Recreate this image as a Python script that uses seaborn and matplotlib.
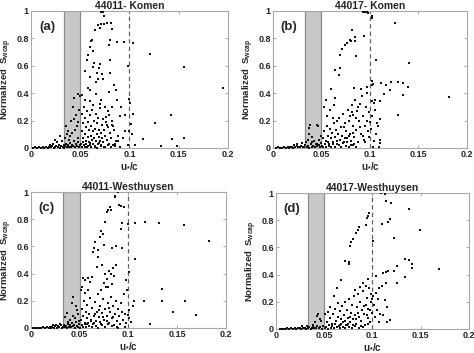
import numpy as np
import pandas as pd
import matplotlib
matplotlib.use("Agg")
import matplotlib.pyplot as plt
import seaborn as sns

# ---------------------------------------------------------
# DATA (valores estimados da figura original)
# ---------------------------------------------------------

TITLES = ["44011- Komen", "44017- Komen", "44011-Westhuysen", "44017-Westhuysen"]
LABELS = ["(a)", "(b)", "(c)", "(d)"]

SHADE_X = [0.033, 0.05]
DASH_X = 0.1
X_TICKS = [0, 0.05, 0.1, 0.15, 0.2]
Y_TICKS = [0, 0.2, 0.4, 0.6, 0.8, 1]

# painel (a) 44011 - Komen
pts_a = [
    (0.002, 0.001), (0.004, 0.003), (0.006, 0.000), (0.008, 0.004), (0.010, 0.002), (0.012, 0.005),
    (0.013, 0.001), (0.015, 0.006), (0.017, 0.002), (0.018, 0.009), (0.020, 0.004), (0.021, 0.012),
    (0.023, 0.001), (0.024, 0.008), (0.025, 0.015), (0.027, 0.005), (0.028, 0.020), (0.029, 0.002),
    (0.030, 0.011), (0.032, 0.006), (0.033, 0.024), (0.034, 0.002), (0.035, 0.013), (0.036, 0.030),
    (0.037, 0.004), (0.038, 0.018), (0.039, 0.009), (0.040, 0.035), (0.041, 0.003), (0.042, 0.022),
    (0.043, 0.012), (0.044, 0.048), (0.045, 0.006), (0.046, 0.027), (0.047, 0.015), (0.048, 0.040),
    (0.049, 0.003), (0.050, 0.020), (0.052, 0.010), (0.053, 0.045), (0.055, 0.004), (0.056, 0.030),
    (0.058, 0.014), (0.060, 0.038), (0.061, 0.006), (0.063, 0.025), (0.065, 0.012), (0.067, 0.002),
    (0.069, 0.033), (0.071, 0.016), (0.074, 0.008), (0.078, 0.022), (0.081, 0.005), (0.085, 0.012),
    (0.022, 0.030), (0.026, 0.045), (0.029, 0.085), (0.024, 0.060), (0.031, 0.050), (0.019, 0.020),
    (0.036, 0.158), (0.041, 0.195), (0.044, 0.365), (0.043, 0.300), (0.038, 0.120), (0.040, 0.090),
    (0.046, 0.240), (0.047, 0.160), (0.035, 0.070), (0.042, 0.110), (0.048, 0.075), (0.039, 0.055),
    (0.045, 0.130), (0.049, 0.280), (0.044, 0.210), (0.037, 0.100), (0.048, 0.190), (0.048, 0.390),
    (0.051, 0.030), (0.052, 0.120), (0.052, 0.250), (0.053, 0.070), (0.053, 0.180), (0.054, 0.020),
    (0.054, 0.300), (0.055, 0.100), (0.055, 0.220), (0.056, 0.050), (0.056, 0.150), (0.057, 0.010),
    (0.057, 0.270), (0.058, 0.080), (0.058, 0.190), (0.059, 0.040), (0.059, 0.130), (0.060, 0.240),
    (0.060, 0.020), (0.061, 0.090), (0.061, 0.160), (0.062, 0.060), (0.062, 0.280), (0.063, 0.120),
    (0.063, 0.030), (0.064, 0.200), (0.064, 0.070), (0.065, 0.140), (0.065, 0.010), (0.066, 0.250),
    (0.066, 0.050), (0.067, 0.100), (0.067, 0.180), (0.068, 0.030), (0.068, 0.220), (0.069, 0.080),
    (0.069, 0.130), (0.070, 0.050), (0.070, 0.290), (0.071, 0.110), (0.071, 0.020), (0.072, 0.170),
    (0.072, 0.070), (0.073, 0.210), (0.073, 0.040), (0.074, 0.130), (0.075, 0.090), (0.075, 0.010),
    (0.076, 0.190), (0.077, 0.060), (0.078, 0.150), (0.079, 0.030), (0.080, 0.110), (0.081, 0.070),
    (0.082, 0.200), (0.083, 0.020), (0.084, 0.130), (0.086, 0.050), (0.088, 0.090), (0.090, 0.010),
    (0.058, 0.440), (0.060, 0.425), (0.066, 0.390), (0.050, 0.380), (0.052, 0.385), (0.055, 0.350),
    (0.060, 0.345), (0.063, 0.310), (0.068, 0.500), (0.072, 0.540), (0.073, 0.500), (0.067, 0.545),
    (0.066, 0.480), (0.060, 0.520), (0.055, 0.565), (0.063, 0.590), (0.064, 0.620), (0.057, 0.645),
    (0.058, 0.680), (0.060, 0.740), (0.063, 0.710), (0.061, 0.780), (0.062, 0.790), (0.069, 0.580),
    (0.070, 0.615), (0.080, 0.645), (0.080, 0.545), (0.084, 0.462), (0.086, 0.420), (0.079, 0.410),
    (0.087, 0.350), (0.071, 0.350), (0.070, 0.320), (0.075, 0.300), (0.082, 0.300), (0.078, 0.270),
    (0.079, 0.240), (0.076, 0.224), (0.077, 0.166), (0.082, 0.166), (0.083, 0.158), (0.090, 0.230),
    (0.091, 0.300), (0.095, 0.240), (0.102, 0.175), (0.100, 0.120), (0.103, 0.100), (0.095, 0.120),
    (0.093, 0.073), (0.088, 0.049), (0.085, 0.030), (0.098, 0.020), (0.100, 0.360), (0.098, 0.600),
    (0.071, 0.995), (0.073, 0.995), (0.074, 0.960), (0.071, 0.905), (0.074, 0.905), (0.077, 0.910),
    (0.081, 0.910), (0.070, 0.876), (0.082, 0.870), (0.068, 0.900), (0.065, 0.860), (0.080, 0.786),
    (0.079, 0.750), (0.087, 0.774), (0.094, 0.774), (0.104, 0.764), (0.121, 0.686), (0.155, 0.590),
    (0.195, 0.436), (0.142, 0.240), (0.126, 0.180), (0.114, 0.068), (0.143, 0.068), (0.155, 0.073),
    (0.132, 0.012), (0.148, 0.017), (0.106, 0.020), (0.101, 0.330), (0.104, 0.250),
]

# painel (b) 44017 - Komen
pts_b = [
    (0.003, 0.001), (0.005, 0.004), (0.007, 0.002), (0.009, 0.000), (0.011, 0.005), (0.013, 0.002),
    (0.015, 0.007), (0.016, 0.001), (0.018, 0.004), (0.020, 0.009), (0.021, 0.002), (0.023, 0.006),
    (0.025, 0.012), (0.026, 0.003), (0.028, 0.008), (0.029, 0.016), (0.031, 0.004), (0.032, 0.010),
    (0.033, 0.020), (0.035, 0.006), (0.036, 0.014), (0.037, 0.002), (0.039, 0.025), (0.040, 0.008),
    (0.041, 0.017), (0.043, 0.004), (0.044, 0.030), (0.045, 0.011), (0.047, 0.020), (0.048, 0.005),
    (0.049, 0.036), (0.051, 0.014), (0.052, 0.003), (0.054, 0.026), (0.055, 0.008), (0.057, 0.040),
    (0.058, 0.016), (0.060, 0.004), (0.062, 0.030), (0.064, 0.010), (0.066, 0.050), (0.068, 0.020),
    (0.070, 0.006), (0.072, 0.035), (0.075, 0.012), (0.078, 0.003), (0.082, 0.020), (0.086, 0.008),
    (0.025, 0.030), (0.030, 0.035), (0.040, 0.040), (0.022, 0.020), (0.034, 0.045),
    (0.045, 0.170), (0.046, 0.158), (0.038, 0.170), (0.037, 0.146), (0.037, 0.100), (0.040, 0.078),
    (0.047, 0.060), (0.045, 0.030), (0.042, 0.050), (0.049, 0.090), (0.036, 0.060),
    (0.060, 0.430), (0.064, 0.365), (0.0625, 0.316), (0.055, 0.350), (0.053, 0.297), (0.059, 0.280),
    (0.056, 0.230), (0.0615, 0.220), (0.066, 0.195), (0.069, 0.580), (0.064, 0.570), (0.068, 0.535),
    (0.052, 0.070), (0.053, 0.120), (0.055, 0.050), (0.056, 0.160), (0.057, 0.090), (0.058, 0.030),
    (0.059, 0.140), (0.060, 0.070), (0.061, 0.110), (0.062, 0.045), (0.063, 0.180), (0.064, 0.080),
    (0.065, 0.130), (0.066, 0.030), (0.067, 0.100), (0.068, 0.220), (0.069, 0.060), (0.070, 0.150),
    (0.071, 0.090), (0.072, 0.250), (0.073, 0.040), (0.074, 0.180), (0.075, 0.120), (0.076, 0.070),
    (0.077, 0.280), (0.078, 0.200), (0.079, 0.100), (0.080, 0.050), (0.081, 0.310), (0.082, 0.160),
    (0.083, 0.240), (0.084, 0.080), (0.085, 0.350), (0.086, 0.130), (0.087, 0.270), (0.088, 0.040),
    (0.089, 0.200), (0.090, 0.320), (0.091, 0.100), (0.092, 0.380), (0.093, 0.230), (0.094, 0.060),
    (0.095, 0.160), (0.096, 0.300), (0.097, 0.400), (0.098, 0.120), (0.099, 0.260), (0.100, 0.190),
    (0.074, 0.070), (0.076, 0.040), (0.078, 0.090), (0.080, 0.020), (0.082, 0.110), (0.084, 0.030),
    (0.073, 0.150), (0.079, 0.230), (0.081, 0.260), (0.086, 0.220), (0.088, 0.300), (0.090, 0.150),
    (0.093, 0.090), (0.095, 0.040), (0.097, 0.200), (0.099, 0.080), (0.101, 0.140), (0.102, 0.230),
    (0.104, 0.050), (0.105, 0.280), (0.106, 0.100), (0.108, 0.160), (0.109, 0.010), (0.103, 0.010),
    (0.093, 0.990), (0.095, 0.995), (0.097, 0.990), (0.098, 0.985), (0.102, 0.960), (0.102, 0.950),
    (0.126, 0.910), (0.081, 0.860), (0.085, 0.810), (0.085, 0.780), (0.079, 0.790), (0.080, 0.780),
    (0.076, 0.766), (0.074, 0.754), (0.071, 0.720), (0.069, 0.680), (0.094, 0.820), (0.086, 0.670),
    (0.106, 0.640), (0.140, 0.620), (0.102, 0.490), (0.103, 0.467), (0.102, 0.460), (0.111, 0.474),
    (0.117, 0.458), (0.122, 0.480), (0.129, 0.480), (0.134, 0.474), (0.139, 0.445), (0.121, 0.426),
    (0.114, 0.396), (0.110, 0.345), (0.134, 0.385), (0.084, 0.440), (0.091, 0.433), (0.097, 0.443),
    (0.182, 0.370), (0.129, 0.240), (0.102, 0.340), (0.104, 0.330), (0.105, 0.350), (0.110, 0.210),
    (0.107, 0.180), (0.110, 0.060), (0.110, 0.036),
]

# painel (c) 44011 - Westhuysen
pts_c = [
    (0.002, 0.000), (0.004, 0.002), (0.006, 0.001), (0.008, 0.003), (0.010, 0.000), (0.012, 0.004),
    (0.014, 0.001), (0.016, 0.005), (0.018, 0.002), (0.019, 0.007), (0.021, 0.001), (0.022, 0.009),
    (0.024, 0.003), (0.025, 0.012), (0.027, 0.002), (0.028, 0.015), (0.029, 0.006), (0.031, 0.019),
    (0.032, 0.003), (0.033, 0.010), (0.034, 0.025), (0.035, 0.005), (0.036, 0.016), (0.037, 0.002),
    (0.038, 0.030), (0.039, 0.009), (0.040, 0.020), (0.041, 0.004), (0.042, 0.038), (0.043, 0.012),
    (0.044, 0.024), (0.045, 0.003), (0.046, 0.045), (0.047, 0.015), (0.048, 0.008), (0.049, 0.032),
    (0.050, 0.002), (0.052, 0.022), (0.053, 0.010), (0.055, 0.040), (0.056, 0.004), (0.058, 0.028),
    (0.060, 0.012), (0.062, 0.050), (0.063, 0.006), (0.065, 0.035), (0.067, 0.016), (0.069, 0.003),
    (0.071, 0.042), (0.073, 0.020), (0.076, 0.008), (0.079, 0.030), (0.083, 0.012), (0.088, 0.004),
    (0.026, 0.025), (0.030, 0.030), (0.023, 0.018),
    (0.0434, 0.230), (0.042, 0.180), (0.047, 0.130), (0.0366, 0.110), (0.0434, 0.090), (0.040, 0.060),
    (0.045, 0.070), (0.038, 0.045), (0.048, 0.100), (0.046, 0.160), (0.035, 0.080), (0.049, 0.050),
    (0.0656, 0.634), (0.0646, 0.586), (0.064, 0.560), (0.069, 0.525), (0.0674, 0.450), (0.0623, 0.377),
    (0.059, 0.365), (0.0605, 0.340), (0.055, 0.350), (0.053, 0.370), (0.052, 0.300), (0.051, 0.280),
    (0.055, 0.255), (0.059, 0.280),
    (0.051, 0.060), (0.052, 0.140), (0.053, 0.090), (0.054, 0.200), (0.055, 0.030), (0.056, 0.120),
    (0.057, 0.070), (0.058, 0.170), (0.059, 0.040), (0.060, 0.100), (0.061, 0.220), (0.062, 0.060),
    (0.063, 0.150), (0.064, 0.030), (0.065, 0.090), (0.066, 0.190), (0.067, 0.050), (0.068, 0.120),
    (0.069, 0.250), (0.070, 0.080), (0.071, 0.160), (0.072, 0.030), (0.073, 0.110), (0.074, 0.210),
    (0.075, 0.060), (0.076, 0.140), (0.077, 0.300), (0.078, 0.090), (0.079, 0.180), (0.080, 0.040),
    (0.081, 0.120), (0.082, 0.230), (0.083, 0.070), (0.084, 0.160), (0.085, 0.020), (0.086, 0.100),
    (0.087, 0.200), (0.088, 0.050), (0.089, 0.140), (0.090, 0.090), (0.091, 0.030), (0.092, 0.180),
    (0.093, 0.120), (0.094, 0.060), (0.095, 0.250), (0.096, 0.010), (0.097, 0.100), (0.098, 0.040),
    (0.074, 0.080), (0.078, 0.050), (0.080, 0.150), (0.084, 0.080), (0.070, 0.130), (0.066, 0.100),
    (0.072, 0.280), (0.075, 0.330), (0.078, 0.360), (0.080, 0.420), (0.082, 0.400), (0.084, 0.440),
    (0.085, 0.380), (0.076, 0.400), (0.073, 0.460), (0.079, 0.300), (0.083, 0.320), (0.087, 0.460),
    (0.089, 0.0), (0.0896, 1.000), (0.086, 0.963), (0.0858, 0.970), (0.090, 0.904), (0.092, 0.897),
    (0.0955, 0.888), (0.081, 0.888), (0.082, 0.870), (0.079, 0.870), (0.078, 0.850), (0.0755, 0.780),
    (0.093, 0.774), (0.0995, 0.765), (0.107, 0.770), (0.117, 0.780), (0.131, 0.774), (0.157, 0.760),
    (0.183, 0.640), (0.0926, 0.726), (0.072, 0.710), (0.0738, 0.690), (0.071, 0.670), (0.0749, 0.610),
    (0.0687, 0.570), (0.107, 0.507), (0.1005, 0.410), (0.135, 0.287), (0.106, 0.200), (0.116, 0.200),
    (0.134, 0.200), (0.158, 0.200), (0.146, 0.120), (0.169, 0.095), (0.122, 0.030), (0.105, 0.160),
    (0.100, 0.095), (0.1005, 0.070), (0.103, 0.046), (0.093, 0.586), (0.087, 0.600), (0.083, 0.590),
    (0.098, 0.350), (0.099, 0.280), (0.101, 0.130),
]

# painel (d) 44017 - Westhuysen
pts_d = [
    (0.004, 0.001), (0.006, 0.003), (0.008, 0.000), (0.010, 0.002), (0.012, 0.004), (0.014, 0.001),
    (0.016, 0.005), (0.018, 0.002), (0.020, 0.006), (0.021, 0.001), (0.023, 0.004), (0.025, 0.008),
    (0.026, 0.002), (0.028, 0.006), (0.030, 0.010), (0.031, 0.003), (0.033, 0.007), (0.034, 0.013),
    (0.036, 0.002), (0.037, 0.009), (0.039, 0.016), (0.040, 0.004), (0.042, 0.011), (0.043, 0.020),
    (0.045, 0.006), (0.046, 0.014), (0.048, 0.002), (0.049, 0.024), (0.051, 0.008), (0.052, 0.016),
    (0.054, 0.003), (0.055, 0.028), (0.057, 0.010), (0.058, 0.020), (0.060, 0.005), (0.061, 0.034),
    (0.063, 0.013), (0.065, 0.024), (0.066, 0.004), (0.068, 0.040), (0.070, 0.016), (0.072, 0.008),
    (0.074, 0.030), (0.076, 0.012), (0.079, 0.004), (0.082, 0.022), (0.086, 0.008), (0.090, 0.015),
    (0.027, 0.020), (0.038, 0.030), (0.032, 0.025),
    (0.063, 0.300), (0.060, 0.240), (0.064, 0.190), (0.056, 0.165), (0.061, 0.150), (0.054, 0.127),
    (0.051, 0.110), (0.044, 0.110), (0.0425, 0.096), (0.046, 0.070), (0.041, 0.054), (0.047, 0.060),
    (0.053, 0.050), (0.056, 0.080), (0.058, 0.040), (0.059, 0.110), (0.062, 0.060), (0.064, 0.090),
    (0.066, 0.030), (0.067, 0.130), (0.068, 0.070), (0.069, 0.170), (0.070, 0.050), (0.071, 0.100),
    (0.072, 0.200), (0.073, 0.030), (0.074, 0.140), (0.075, 0.080), (0.076, 0.220), (0.077, 0.050),
    (0.078, 0.120), (0.079, 0.180), (0.080, 0.070), (0.081, 0.240), (0.082, 0.100), (0.083, 0.040),
    (0.084, 0.160), (0.085, 0.260), (0.086, 0.090), (0.087, 0.200), (0.088, 0.060), (0.089, 0.140),
    (0.090, 0.280), (0.091, 0.110), (0.092, 0.030), (0.093, 0.180), (0.094, 0.230), (0.095, 0.080),
    (0.096, 0.150), (0.097, 0.300), (0.098, 0.050), (0.099, 0.200), (0.100, 0.120), (0.100, 0.220),
    (0.072, 0.060), (0.075, 0.040), (0.077, 0.090), (0.080, 0.030), (0.083, 0.070), (0.085, 0.120),
    (0.088, 0.020), (0.091, 0.170), (0.094, 0.100), (0.096, 0.040), (0.098, 0.140), (0.099, 0.260),
    (0.102, 0.180), (0.103, 0.090), (0.105, 0.140), (0.106, 0.220), (0.107, 0.050), (0.108, 0.110),
    (0.109, 1.000), (0.113, 0.990), (0.114, 0.945), (0.119, 0.925), (0.1385, 0.880), (0.097, 0.855),
    (0.0953, 0.830), (0.0943, 0.814), (0.093, 0.765), (0.0867, 0.750), (0.085, 0.730), (0.083, 0.710),
    (0.0798, 0.660), (0.078, 0.640), (0.077, 0.610), (0.118, 0.810), (0.116, 0.785), (0.110, 0.770),
    (0.1495, 0.730), (0.122, 0.670), (0.1005, 0.650), (0.072, 0.500), (0.0756, 0.490), (0.0756, 0.480),
    (0.1334, 0.515), (0.1385, 0.510), (0.1415, 0.480), (0.1415, 0.450), (0.126, 0.460), (0.122, 0.430),
    (0.116, 0.430), (0.114, 0.420), (0.111, 0.410), (0.104, 0.390), (0.1334, 0.380), (0.126, 0.340),
    (0.169, 0.440), (0.1143, 0.340), (0.110, 0.320), (0.107, 0.300), (0.104, 0.265), (0.1005, 0.240),
    (0.113, 0.210), (0.115, 0.165), (0.111, 0.100), (0.118, 0.066), (0.115, 0.054), (0.090, 0.340),
    (0.093, 0.320), (0.087, 0.310), (0.082, 0.290), (0.096, 0.370), (0.068, 0.360),
]

PANELS = [pts_a, pts_b, pts_c, pts_d]

# posições dos eixos em fração da figura (left, bottom, width, height)
AX_POS = [
    (0.0654, 0.581, 0.4156, 0.388),
    (0.576, 0.581, 0.409, 0.388),
    (0.0654, 0.071, 0.411, 0.385),
    (0.582, 0.068, 0.407, 0.385),
]

# ---------------------------------------------------------
# ESTILO
# ---------------------------------------------------------
sns.set_theme(style="white")
plt.rcParams["font.family"] = ["Liberation Sans", "DejaVu Sans"]
plt.rcParams["font.weight"] = "bold"
plt.rcParams["mathtext.fontset"] = "custom"
plt.rcParams["mathtext.rm"] = "Liberation Sans:bold"
plt.rcParams["mathtext.it"] = "Liberation Sans:bold"
plt.rcParams["mathtext.bf"] = "Liberation Sans:bold"
plt.rcParams["mathtext.default"] = "bf"


def draw_panel(ax, pts, title, label):
    df = pd.DataFrame(pts, columns=["ustar_c", "swcap"])

    ax.axvspan(SHADE_X[0], SHADE_X[1], facecolor="#c8c8c8",
               edgecolor="#8c8c8c", linewidth=0.9, zorder=1)
    ax.axvline(DASH_X, color="#606060", linestyle=(0, (3.5, 2.5)),
               linewidth=0.9, zorder=2)

    sns.scatterplot(data=df, x="ustar_c", y="swcap", ax=ax, color="#111111",
                    s=1.3, marker="s", linewidth=0, zorder=3, legend=False)

    ax.set_xlim(0, 0.2)
    ax.set_ylim(0, 1)
    ax.set_xticks(X_TICKS)
    ax.set_yticks(Y_TICKS)
    ax.set_xticklabels(["0", "0.05", "0.1", "0.15", "0.2"])
    ax.set_yticklabels(["0", "0.2", "0.4", "0.6", "0.8", "1"])
    ax.tick_params(direction="in", length=2, width=0.6, color="#999999",
                   labelsize=6.5, pad=1.5, top=True, right=True,
                   bottom=True, left=True)
    for lbl in ax.get_xticklabels() + ax.get_yticklabels():
        lbl.set_fontweight("bold")

    for sp in ax.spines.values():
        sp.set_color("#a8a8a8")
        sp.set_linewidth(0.8)

    ax.set_title(title, fontsize=7.5, fontweight="bold", pad=1.5)
    ax.set_xlabel(r"u$_{*}$/c", fontsize=7, fontweight="bold", labelpad=1)
    ax.set_ylabel(r"Normalized  S$_{wcap}$", fontsize=6.8,
                  fontweight="bold", labelpad=1.5)
    ax.text(0.04, 0.93, label, transform=ax.transAxes, fontsize=9.5,
            fontweight="bold", ha="left", va="top")


fig = plt.figure(figsize=(4.74, 3.53), dpi=100)
for pts, title, label, pos in zip(PANELS, TITLES, LABELS, AX_POS):
    ax = fig.add_axes(pos)
    draw_panel(ax, pts, title, label)

fig.savefig("out.png", dpi=100, facecolor="white")
